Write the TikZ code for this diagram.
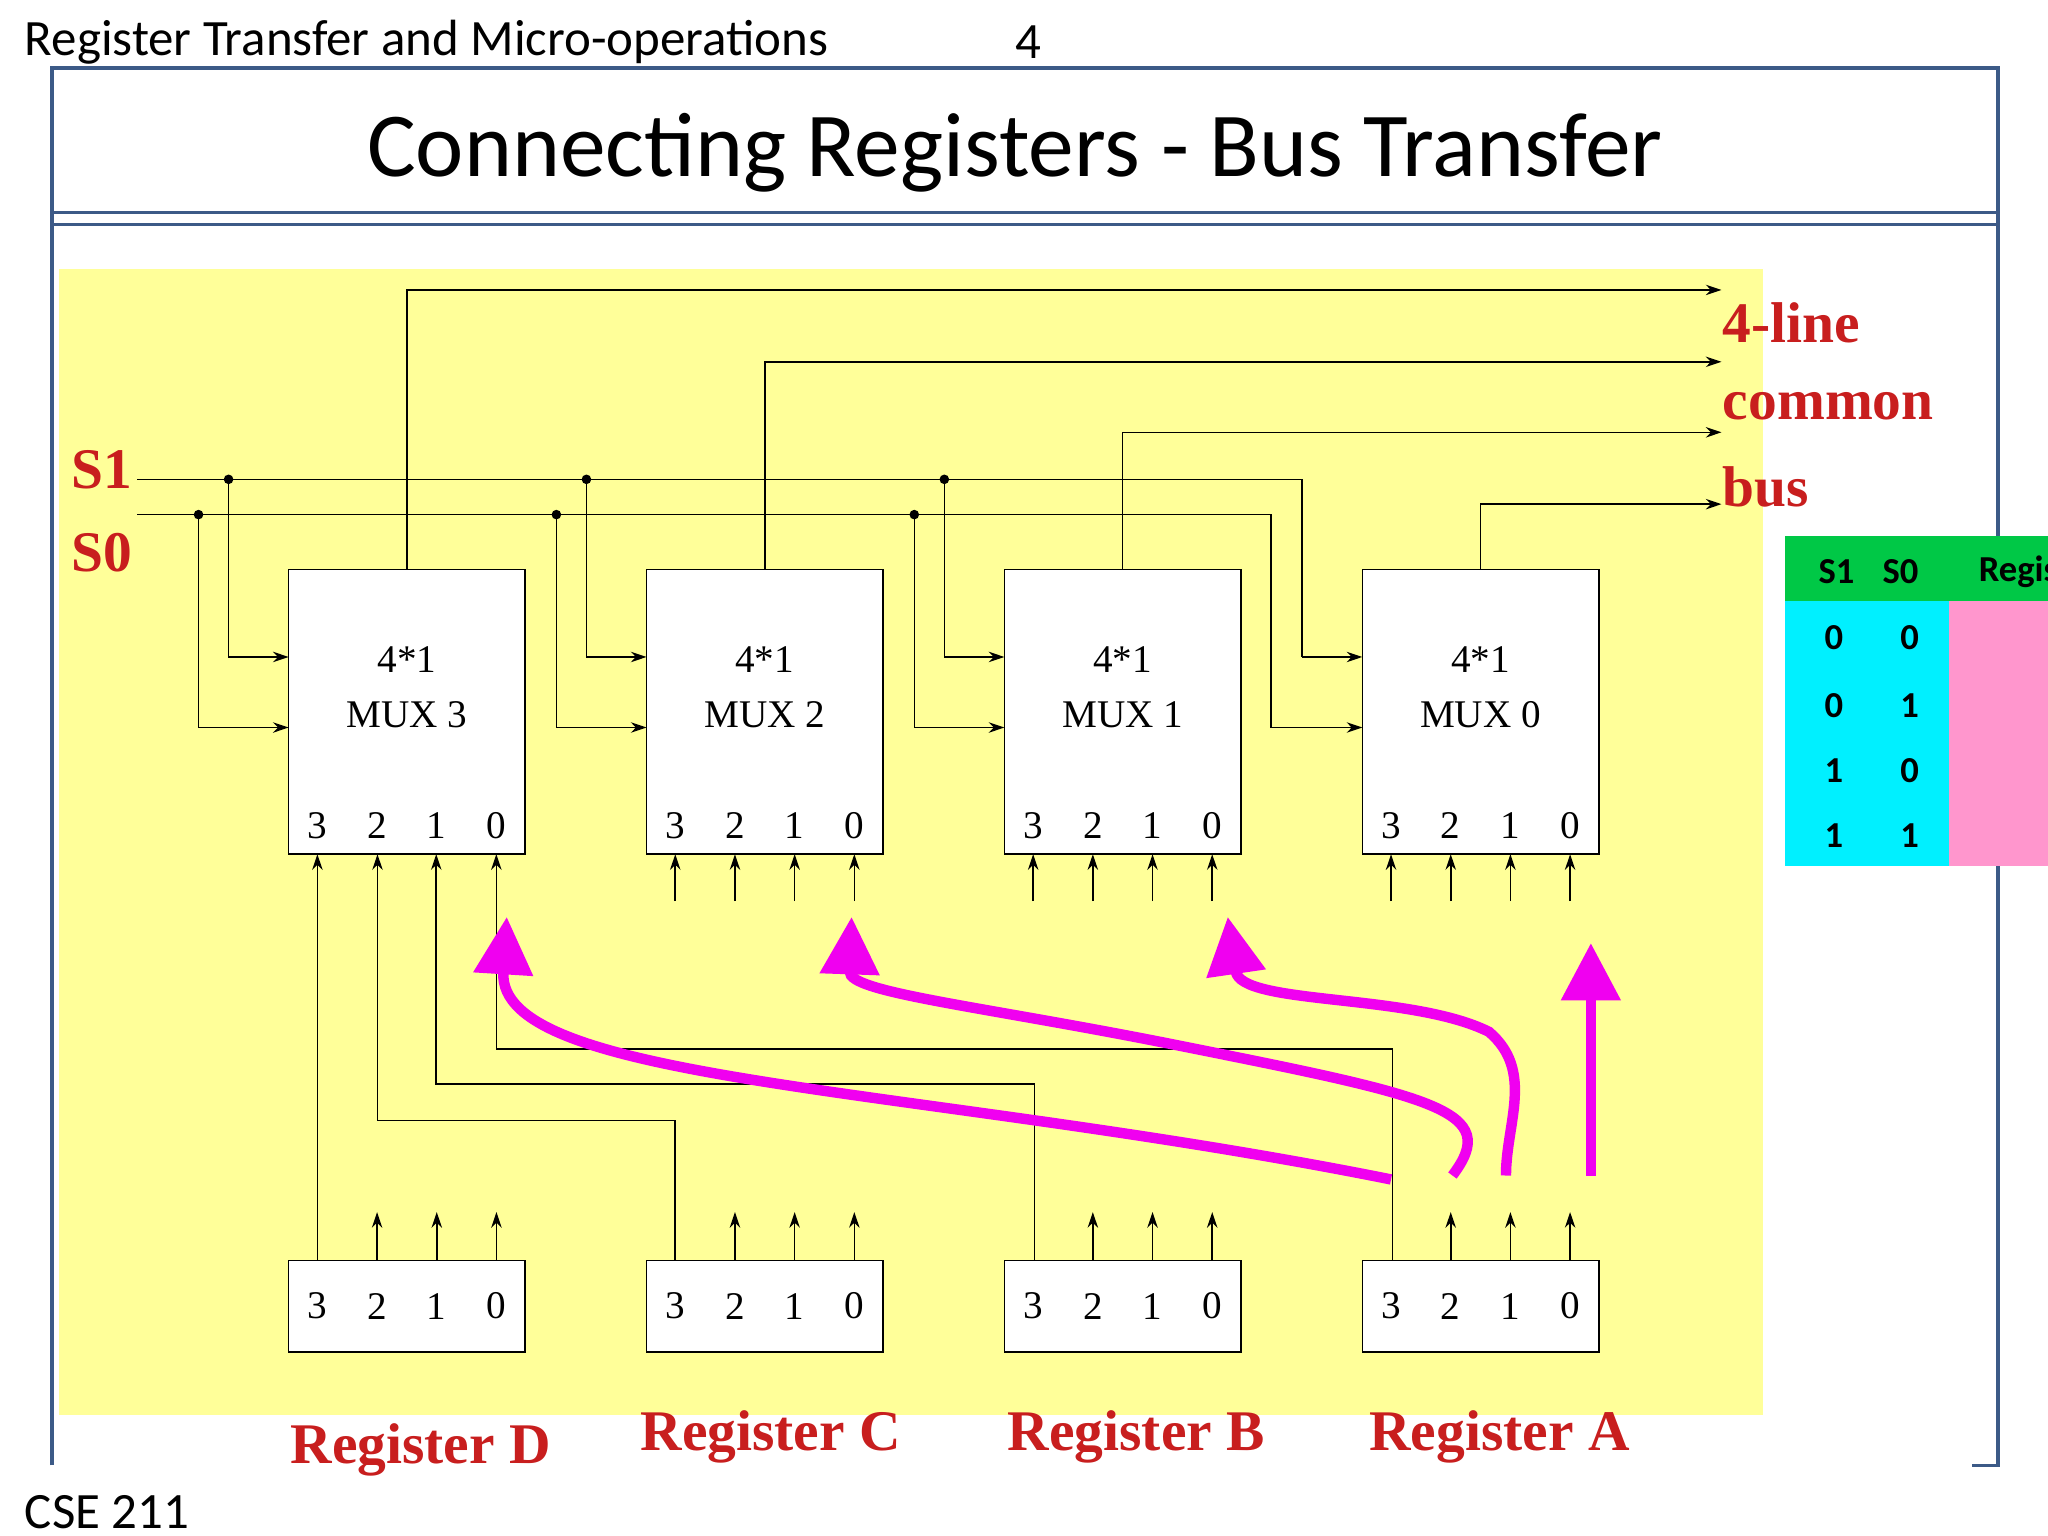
\documentclass[tikz,border=0pt]{standalone}
\usepackage{fontspec}
\setmainfont{Carlito}
\newfontfamily\lserif{Liberation Serif}
\usetikzlibrary{arrows.meta}
\definecolor{frameblue}{RGB}{60,90,135}
\definecolor{padyellow}{RGB}{255,255,153}
\definecolor{redlbl}{RGB}{200,30,30}
\definecolor{tgreen}{RGB}{0,200,70}
\definecolor{tcyan}{RGB}{0,240,255}
\definecolor{tpink}{RGB}{255,150,205}
\definecolor{magarr}{RGB}{240,0,240}
\tikzset{
  box/.style={draw,fill=white,line width=0.6pt},
  wire/.style={line width=0.6pt},
  warr/.style={wire,-{Stealth[length=6pt,width=4pt]}},
  dot/.style={circle,fill,inner sep=1.3pt},
  muxtxt/.style={font=\lserif\fontsize{15}{15}\selectfont},
  redtxt/.style={text=redlbl,font=\lserif\bfseries\fontsize{22}{22}\selectfont},
  tbl/.style={font=\fontsize{14}{14}\selectfont\bfseries},
  maghead/.style={magarr,line width=4pt,-{Triangle[length=22pt,width=22pt]}}
}
\begin{document}
\begin{tikzpicture}[x=0.5pt,y=0.5pt,yscale=-1]
\useasboundingbox (0,0) rectangle (1568,1176);
% header
\node[anchor=west,font=\fontsize{19.5}{19.5}\selectfont] (hdr) at (12,32) {Register Transfer and Micro-operations};
\node[font=\fontsize{19.5}{19.5}\selectfont] (pg) at (787,32) {4};
\node[anchor=west,font=\fontsize{19.5}{19.5}\selectfont] (ftr) at (12,1158) {CSE 211};
% frame
\draw[frameblue,line width=1.5pt] (40,1122) -- (40,52) -- (1530,52) -- (1530,1122) -- (1510,1122);
\draw[frameblue,line width=1.2pt] (40,163) -- (1530,163);
\draw[frameblue,line width=1.2pt] (40,172) -- (1530,172);
\node[font=\fontsize{35}{35}\selectfont] (title) at (777,117) {Connecting Registers - Bus Transfer};
% yellow pad
\fill[padyellow] (45,206) rectangle (1350,1083);
% table
\fill[tgreen] (1367,410) rectangle (1568,460);
\fill[tcyan] (1367,460) rectangle (1492,663);
\fill[tpink] (1492,460) rectangle (1568,663);
\begin{scope}[tbl]
\node (th1) at (1406,438) {S1};
\node (th2) at (1455,438) {S0};
\begin{scope}
\clip (1492,410) rectangle (1568,460);
\node[anchor=west] (th3) at (1508,438) {Register};
\end{scope}
\foreach \a/\b/\y in {0/0/488,0/1/540,1/0/590,1/1/640}{
  \node at (1404,\y) {\a}; \node at (1462,\y) {\b};}
\end{scope}
% select lines
\node[redtxt,anchor=west] (s1) at (48,360) {S1};
\node[redtxt,anchor=west] (s0) at (48,423) {S0};
\draw[wire] (105,367) -- (997,367) -- (997,503);
\draw[warr] (997,503) -- (1043,503);
\draw[wire] (105,394) -- (973,394) -- (973,557);
\draw[warr] (973,557) -- (1043,557);
\foreach \i/\n in {0/3,1/2,2/1}{
  \pgfmathsetmacro\xa{175+274*\i}
  \pgfmathsetmacro\xb{152+274*\i}
  \pgfmathsetmacro\xm{221+274*\i}
  \node[dot] (d1\n) at (\xa,367) {};
  \node[dot] (d0\n) at (\xb,394) {};
  \draw[warr] (d1\n.center) |- (\xm,503);
  \draw[warr] (d0\n.center) |- (\xm,557);
}
% muxes and registers
\foreach \i/\n/\r in {0/3/D,1/2/C,2/1/B,3/0/A}{
  \pgfmathsetmacro\xl{221+274*\i}
  \pgfmathsetmacro\xc{311.5+274*\i}
  \node[box,minimum width=90.5pt,minimum height=109pt] (mux\n) at (\xc,545) {};
  \node[muxtxt] (mt\n) at (\xc,505) {4*1};
  \node[muxtxt] (mn\n) at (\xc,547) {MUX \n};
  \node[box,minimum width=90.5pt,minimum height=35pt] (reg\r) at (\xc,1000) {};
  \foreach \k/\d in {3/0,2/1,1/2,0/3}{
    \pgfmathsetmacro\xx{\xl+22+45.7*\d}
    \node[muxtxt] at (\xx,632) {\k};
    \node[muxtxt] at (\xx,1000) {\k};
  }
  \foreach \d in {1,2,3}{
    \pgfmathsetmacro\xx{\xl+22+45.7*\d}
    \draw[warr] (\xx,965) -- (\xx,928);
  }
}
\foreach \i/\n in {1/2,2/1,3/0}{
  \foreach \d in {0,1,2,3}{
    \pgfmathsetmacro\xx{221+274*\i+22+45.7*\d}
    \draw[warr] (\xx,690) -- (\xx,654);
  }
}
% bus outputs
\draw[warr] (mux3.north) |- (1318,222);
\draw[warr] (mux2.north) |- (1318,277);
\draw[warr] (mux1.north) |- (1318,331);
\draw[warr] (mux0.north) |- (1318,386);
\node[redtxt,anchor=west] (b1) at (1312,247) {4-line};
\node[redtxt,anchor=west] (b2) at (1312,311) {common};
\node[redtxt,anchor=west] (b3) at (1312,373) {bus};
% register 3-outputs to MUX3
\draw[warr] (243,965) -- (243,654);
\draw[warr] (517,965) -- (517,858) -- (289,858) -- (289,654);
\draw[warr] (792,965) -- (792,830) -- (334,830) -- (334,654);
\draw[warr] (1066,965) -- (1066,803) -- (380,803) -- (380,654);
% register labels
\node[redtxt] (lD) at (322,1110) {Register D};
\node[redtxt] (lC) at (590,1100) {Register C};
\node[redtxt] (lB) at (870,1100) {Register B};
\node[redtxt] (lA) at (1148,1100) {Register A};
% magenta arrows
\draw[maghead] (1065,903) .. controls (700,830) and (380,830) .. (388,702);
\draw[maghead] (1112,900) .. controls (1150,850) and (1100,840) .. (900,800) .. controls (750,770) and (650,760) .. (652,702);
\draw[maghead] (1153,900) .. controls (1153,860) and (1175,820) .. (1140,790) .. controls (1080,760) and (950,770) .. (940,702);
\draw[maghead] (1218,900) -- (1218,722);
\end{tikzpicture}
\end{document}
